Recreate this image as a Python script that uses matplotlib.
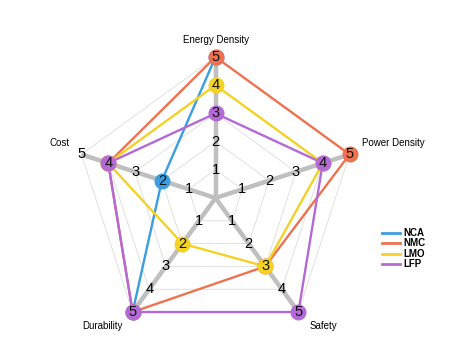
import numpy as np
import matplotlib
matplotlib.use("Agg")
import matplotlib.pyplot as plt
from matplotlib.lines import Line2D

plt.rcParams['font.family'] = ['Liberation Sans', 'DejaVu Sans']

# data
categories = ["Energy Density", "Power Density", "Safety", "Durability", "Cost"]
series_names = ["NCA", "NMC", "LMO", "LFP"]
nca = [5, np.nan, np.nan, 5, 2]
nmc = [5, 5, 3, 5, 4]
lmo = [4, 4, 3, 2, 4]
lfp = [3, 4, 5, 5, 4]
levels = [1, 2, 3, 4, 5]

colors = ["#3a9ee0", "#ee7150", "#f4d225", "#b36ad5"]

fig = plt.figure(figsize=(4.74, 3.55), dpi=100)
ax = fig.add_axes([0.1572, 0.0451, 0.5949, 0.7944], projection='polar')
ax.set_theta_offset(np.pi / 2)
ax.set_theta_direction(-1)
ax.set_ylim(0, 5)
ax.axis('off')

n = len(categories)
angles = np.arange(n) * 2 * np.pi / n
closed = np.append(angles, angles[0])

# pentagon grid
for lv in levels:
    ax.plot(closed, [lv] * (n + 1), color='#dcdcdc', lw=0.6, zorder=1, clip_on=False)

# spokes + tick numbers
for a in angles:
    ax.plot([a, a], [0, 5], color='#bfbfbf', lw=3.2, solid_capstyle='butt', zorder=2, clip_on=False)
    for lv in levels:
        ax.text(a, lv, str(lv), ha='center', va='center', fontsize=10.5, zorder=3, clip_on=False)

# series
all_vals = [nca, nmc, lmo, lfp]
for i, (name, vals) in enumerate(zip(series_names, all_vals)):
    v = np.append(vals, vals[0])
    ax.plot(closed, v, color=colors[i], lw=1.7, zorder=4, clip_on=False)
    for a, val in zip(angles, vals):
        if np.isnan(val):
            continue
        ax.plot([a], [val], 'o', ms=10.5, color=colors[i], mec=colors[i], zorder=5 + i, clip_on=False)
        ax.text(a, val, str(int(val)), ha='center', va='center', fontsize=10.5,
                color='#111111', zorder=5 + i + 0.5, clip_on=False)

# category labels
offsets = [(0, 17, 'center'), (12, 11, 'left'), (25, -14, 'center'), (-30, -14, 'center'), (-22, 11, 'center')]
for a, lab, (dx, dy, ha) in zip(angles, categories, offsets):
    ax.annotate(lab, xy=(a, 5), xytext=(dx, dy), textcoords='offset pixels',
                ha=ha, va='center', fontsize=7, annotation_clip=False)

handles = [Line2D([0], [0], color=c, lw=2) for c in colors]
leg = fig.legend(handles, series_names, loc='upper left', bbox_to_anchor=(382 / 474, 127 / 355),
                 frameon=False, borderpad=0, borderaxespad=0, handlelength=1.8,
                 handletextpad=0.4, labelspacing=0.05, prop={'size': 7, 'weight': 'bold'})

fig.savefig("out.png", dpi=100)
